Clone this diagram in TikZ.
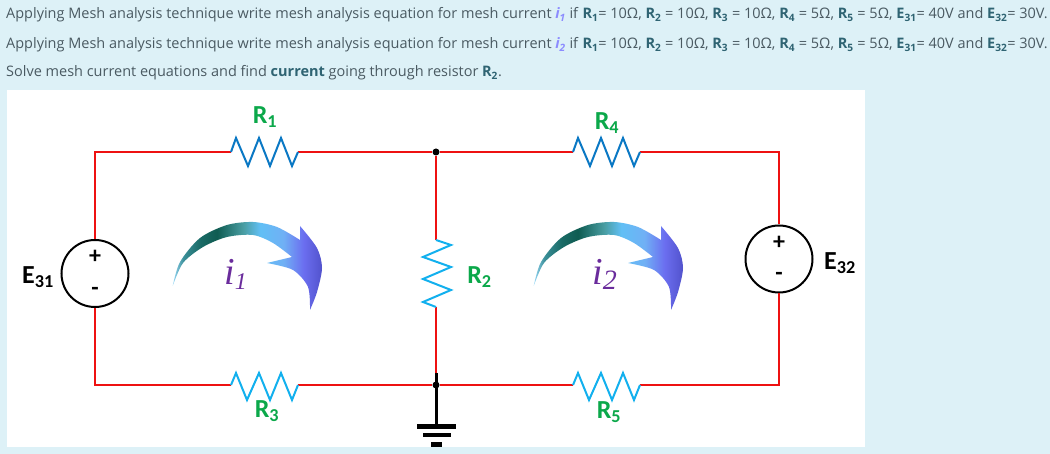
\documentclass[tikz,border=0pt]{standalone}
\usepackage{fontspec}
\setmainfont{Open Sans}
\newfontfamily\lab{Carlito}
\newfontface\iital{Liberation Serif Italic}
\definecolor{pagebg}{HTML}{DDF1F7}
\definecolor{txt}{HTML}{4A5A62}
\definecolor{boldtxt}{HTML}{2F6473}
\definecolor{wire}{HTML}{EE1111}
\definecolor{resA}{HTML}{0A78C4}
\definecolor{resB}{HTML}{12B0EE}
\definecolor{lblg}{HTML}{0BA84A}
\definecolor{ipurple}{HTML}{6A2C9C}
\definecolor{swa}{HTML}{99D9F7}
\definecolor{swb}{HTML}{3B8F99}
\definecolor{swc}{HTML}{1A6B66}
\definecolor{swd}{HTML}{0F5C52}
\definecolor{swe}{HTML}{4A9EA3}
\definecolor{swf}{HTML}{61BFF5}
\definecolor{swg}{HTML}{70B0F5}
\definecolor{swh}{HTML}{6B6EF0}
\definecolor{swi}{HTML}{5252CC}
\pgfdeclarehorizontalshading{swooshsh}{100bp}{
 color(0bp)=(swa);
 color(25bp)=(swa);
 color(28.6bp)=(swb);
 color(34.2bp)=(swc);
 color(39.8bp)=(swd);
 color(48.7bp)=(swe);
 color(54.3bp)=(swf);
 color(62.1bp)=(swg);
 color(68.8bp)=(swh);
 color(75bp)=(swi);
 color(100bp)=(swi)}
\tikzset{
 x=1pt,y=-1pt,
 wireline/.style={draw=wire,line width=2pt},
 reswave/.style={line width=2pt,line join=miter},
 src/.style={circle,draw=black,line width=2pt,minimum size=67pt,inner sep=0pt,fill=white},
 qtext/.style={anchor=west,inner sep=0pt,text=txt,font=\fontsize{14.48}{16}\selectfont},
 rlabel/.style={inner sep=0pt,text=lblg,font=\lab\bfseries\fontsize{26}{28}\selectfont},
 blabel/.style={inner sep=0pt,text=black,font=\lab\bfseries\fontsize{26}{28}\selectfont},
 ilabel/.style={anchor=base west,inner sep=0pt,text=ipurple,font=\iital\fontsize{38}{40}\selectfont},
 sign/.style={inner sep=0pt,text=black,font=\lab\bfseries\fontsize{24}{26}\selectfont},
 dotnode/.style={circle,fill=black,inner sep=0pt,minimum size=7pt},
 gbar/.style={fill=black,draw=none}
}
\newcommand{\BB}[1]{\textbf{\textcolor{boldtxt}{#1}}}
\newcommand{\qline}{\BB{R\textsubscript{1}}= 10Ω, \BB{R\textsubscript{2}} = 10Ω, \BB{R\textsubscript{3}} = 10Ω, \BB{R\textsubscript{4}} = 5Ω, \BB{R\textsubscript{5}} = 5Ω, \BB{E\textsubscript{31}}= 40V and \BB{E\textsubscript{32}}= 30V.}
\newcommand{\swoosh}[2]{%
 \begin{scope}[shift={(#1,#2)}]
  \shade[shading=swooshsh]
   plot[smooth] coordinates {(12.7,81)(20,57)(40,33)(67,20)(93,17)(117,22)(140,35)}
   -- (140,21)
   -- plot[smooth] coordinates {(140,21)(157,43)(162,63)(157,87)(150,105)}
   -- plot[smooth] coordinates {(150,105)(148,82)(133,65)(107,58)}
   -- (132,52)
   -- plot[smooth] coordinates {(132,52)(113,38)(93,30)(67,32)(43,42)(23,58)(12.7,81)}
   -- cycle;
 \end{scope}}
\begin{document}
\begin{tikzpicture}
\useasboundingbox (0,0) rectangle (1050,454);
\fill[pagebg] (0,0) rectangle (1050,454);
\fill[white] (7,90) rectangle (865,447);
\node[qtext] (q1) at (6,15) {Applying Mesh analysis technique write mesh analysis equation for mesh current \textcolor{blue!45!white}{\textbf{\textit{i\textsubscript{1}}}} if \qline};
\node[qtext] (q2) at (6,45) {Applying Mesh analysis technique write mesh analysis equation for mesh current \textcolor{blue!45!white}{\textbf{\textit{i\textsubscript{2}}}} if \qline};
\node[qtext] (q3) at (6,73) {Solve mesh current equations and find \BB{current} going through resistor \BB{R\textsubscript{2}}.};
\coordinate (tl) at (95,152); \coordinate (tr) at (779,152);
\coordinate (bl) at (95,385); \coordinate (br) at (779,385);
\node[dotnode] (top) at (436,152) {};
\node[dotnode] (bot) at (436,385) {};
\coordinate (r1a) at (231,152); \coordinate (r1b) at (298,152);
\coordinate (r4a) at (573,152); \coordinate (r4b) at (640,152);
\coordinate (r3a) at (231,385); \coordinate (r3b) at (298,385);
\coordinate (r5a) at (573,385); \coordinate (r5b) at (640,385);
\coordinate (r2a) at (436,240); \coordinate (r2b) at (436,307);
\node[src] (e31) at (95,273.5) {};
\node[src] (e32) at (779,259) {};
\draw[wireline] (e31.north) -- (tl) -- (r1a) (r1b) -- (top) -- (r4a) (r4b) -- (tr) -- (e32.north);
\draw[wireline] (e31.south) -- (bl) -- (r3a) (r3b) -- (bot) -- (r5a) (r5b) -- (br) -- (e32.south);
\draw[wireline] (top) -- (r2a) (r2b) -- (bot);
\foreach \a in {r1a,r4a}{
 \draw[reswave,draw=resA] (\a) -- ++(5,-14) -- ++(12,28) -- ++(11,-28) -- ++(11,28) -- ++(11,-28) -- ++(11,28) -- ++(6,-14);}
\foreach \a in {r3a,r5a}{
 \draw[reswave,draw=resB] (\a) -- ++(5,-12) -- ++(11,27) -- ++(12,-27) -- ++(11,27) -- ++(11,-27) -- ++(11,27) -- ++(6,-15);}
\draw[reswave,draw=resB] (r2a) -- ++(15,5) -- ++(-28,12) -- ++(28,10) -- ++(-28,12) -- ++(28,11) -- ++(-28,12) -- ++(13,5);
\coordinate (g0) at (436.5,425);
\draw[black,line width=3.2pt] (436.5,373) -- (g0);
\fill[gbar] (417,424) rectangle (456,429);
\fill[gbar] (423,433) rectangle (451,437);
\fill[gbar] (431,442) rectangle (442,447);
\node[rlabel] (lr1) at (265,117) {R\textsubscript{1}};
\node[rlabel] (lr4) at (607,123) {R\textsubscript{4}};
\node[rlabel] (lr3) at (267,411) {R\textsubscript{3}};
\node[rlabel] (lr5) at (609,412) {R\textsubscript{5}};
\node[rlabel] (lr2) at (479.5,277) {R\textsubscript{2}};
\node[blabel] (le31) at (38,277) {E\textsubscript{31}};
\node[blabel] (le32) at (840,263) {E\textsubscript{32}};
\node[sign] (p1) at (95,257) {+};
\node[sign] (m1) at (95,291) {-};
\node[sign] (p2) at (779,243) {+};
\node[sign] (m2) at (779,276) {-};
\swoosh{160}{205}
\swoosh{521}{205}
\node[ilabel] (i1) at (224,285) {i\raisebox{-5pt}{\fontsize{24}{26}\selectfont 1}};
\node[ilabel] (i2) at (592,285) {i\raisebox{-5pt}{\fontsize{28}{26}\selectfont 2}};
\end{tikzpicture}
\end{document}
